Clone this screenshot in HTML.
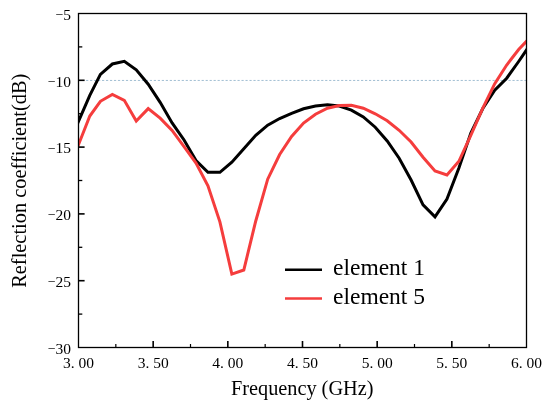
<!DOCTYPE html>
<html><head><meta charset="utf-8"><style>
html,body{margin:0;padding:0;background:#fff;}
svg{display:block;}
text{font-family:"Liberation Serif","Times New Roman",serif;fill:#000;}
</style></head><body>
<svg width="550" height="404" viewBox="0 0 550 404">
<defs><clipPath id="c"><rect x="78.5" y="13.5" width="448.0" height="334.0"/></clipPath></defs>
<rect width="550" height="404" fill="#fff"/>
<line x1="78.1" y1="80.45" x2="526.5" y2="80.45" stroke="#a2bfd3" stroke-width="1" stroke-dasharray="2.2 1.785"/>
<g clip-path="url(#c)">
<polyline points="76.50,126.00 89.80,95.30 100.40,74.40 112.35,64.00 124.30,61.40 136.25,69.90 148.20,84.20 160.15,102.30 172.10,122.90 184.05,140.00 196.00,160.50 207.95,172.30 219.90,172.30 231.85,162.20 243.80,148.80 255.75,135.30 267.70,125.20 279.65,118.50 291.60,113.40 303.55,108.80 315.50,106.00 327.45,104.70 339.40,106.00 351.35,110.20 363.30,116.90 375.25,127.20 387.20,141.00 399.15,158.20 411.10,180.00 423.05,204.80 435.00,216.80 446.95,199.00 458.90,168.00 470.85,133.00 482.80,108.50 494.75,90.20 506.70,78.20 518.65,61.50 530.60,44.00" fill="none" stroke="#000" stroke-width="3" stroke-linejoin="miter" stroke-miterlimit="3"/>
<polyline points="76.50,149.80 89.80,116.00 100.40,101.30 112.35,94.40 124.30,100.30 136.25,121.10 148.20,108.60 160.15,118.20 172.10,130.40 184.05,146.60 196.00,163.10 207.95,185.80 219.90,221.80 231.85,274.10 243.80,270.00 255.75,221.00 267.70,179.20 279.65,154.50 291.60,136.50 303.55,123.00 315.50,114.20 327.45,108.20 339.40,105.50 351.35,105.20 363.30,108.20 375.25,113.80 387.20,120.80 399.15,130.30 411.10,142.00 423.05,157.20 435.00,171.00 446.95,175.00 458.90,161.30 470.80,135.30 482.80,108.10 494.75,83.70 506.70,65.00 518.65,49.50 530.60,37.00" fill="none" stroke="#f53d3d" stroke-width="3" stroke-linejoin="miter" stroke-miterlimit="3"/>
</g>
<rect x="78.5" y="13.5" width="448.0" height="334.0" fill="none" stroke="#000" stroke-width="1.3"/>
<line x1="78.5" y1="46.90" x2="82.3" y2="46.90" stroke="#000" stroke-width="1.3"/><line x1="78.5" y1="80.30" x2="84.6" y2="80.30" stroke="#000" stroke-width="1.6"/><line x1="78.5" y1="113.70" x2="82.3" y2="113.70" stroke="#000" stroke-width="1.3"/><line x1="78.5" y1="147.10" x2="84.6" y2="147.10" stroke="#000" stroke-width="1.6"/><line x1="78.5" y1="180.50" x2="82.3" y2="180.50" stroke="#000" stroke-width="1.3"/><line x1="78.5" y1="213.90" x2="84.6" y2="213.90" stroke="#000" stroke-width="1.6"/><line x1="78.5" y1="247.30" x2="82.3" y2="247.30" stroke="#000" stroke-width="1.3"/><line x1="78.5" y1="280.70" x2="84.6" y2="280.70" stroke="#000" stroke-width="1.6"/><line x1="78.5" y1="314.10" x2="82.3" y2="314.10" stroke="#000" stroke-width="1.3"/><line x1="115.83" y1="347.5" x2="115.83" y2="344.0" stroke="#000" stroke-width="1.2"/><line x1="153.17" y1="347.5" x2="153.17" y2="341.0" stroke="#000" stroke-width="1.6"/><line x1="190.50" y1="347.5" x2="190.50" y2="344.0" stroke="#000" stroke-width="1.2"/><line x1="227.83" y1="347.5" x2="227.83" y2="341.0" stroke="#000" stroke-width="1.6"/><line x1="265.17" y1="347.5" x2="265.17" y2="344.0" stroke="#000" stroke-width="1.2"/><line x1="302.50" y1="347.5" x2="302.50" y2="341.0" stroke="#000" stroke-width="1.6"/><line x1="339.83" y1="347.5" x2="339.83" y2="344.0" stroke="#000" stroke-width="1.2"/><line x1="377.17" y1="347.5" x2="377.17" y2="341.0" stroke="#000" stroke-width="1.6"/><line x1="414.50" y1="347.5" x2="414.50" y2="344.0" stroke="#000" stroke-width="1.2"/><line x1="451.83" y1="347.5" x2="451.83" y2="341.0" stroke="#000" stroke-width="1.6"/><line x1="489.17" y1="347.5" x2="489.17" y2="344.0" stroke="#000" stroke-width="1.2"/>
<g font-size="15.5"><text x="71" y="19.8" text-anchor="end"><tspan font-size="13.8" dy="-0.9">−</tspan><tspan dy="0.9">5</tspan></text><text x="71" y="86.6" text-anchor="end"><tspan font-size="13.8" dy="-0.9">−</tspan><tspan dy="0.9">10</tspan></text><text x="71" y="153.4" text-anchor="end"><tspan font-size="13.8" dy="-0.9">−</tspan><tspan dy="0.9">15</tspan></text><text x="71" y="220.2" text-anchor="end"><tspan font-size="13.8" dy="-0.9">−</tspan><tspan dy="0.9">20</tspan></text><text x="71" y="287.0" text-anchor="end"><tspan font-size="13.8" dy="-0.9">−</tspan><tspan dy="0.9">25</tspan></text><text x="71" y="353.8" text-anchor="end"><tspan font-size="13.8" dy="-0.9">−</tspan><tspan dy="0.9">30</tspan></text></g>
<g font-size="15.5"><text x="78.5" y="367.6" text-anchor="middle">3.<tspan dx="4">00</tspan></text><text x="153.2" y="367.6" text-anchor="middle">3.<tspan dx="4">50</tspan></text><text x="227.8" y="367.6" text-anchor="middle">4.<tspan dx="4">00</tspan></text><text x="302.5" y="367.6" text-anchor="middle">4.<tspan dx="4">50</tspan></text><text x="377.2" y="367.6" text-anchor="middle">5.<tspan dx="4">00</tspan></text><text x="451.8" y="367.6" text-anchor="middle">5.<tspan dx="4">50</tspan></text><text x="526.5" y="367.6" text-anchor="middle">6.<tspan dx="4">00</tspan></text></g>
<text x="302.2" y="395" font-size="20.3" text-anchor="middle">Frequency (GHz)</text>
<text transform="translate(26.2,180.7) rotate(-90)" font-size="20.4" text-anchor="middle">Reflection coefficient(dB)</text>
<line x1="285" y1="269.8" x2="322" y2="269.8" stroke="#000" stroke-width="2.6"/>
<line x1="285" y1="298.5" x2="322" y2="298.5" stroke="#f53d3d" stroke-width="2.5"/>
<text x="333" y="275" font-size="23.5">element 1</text>
<text x="333" y="303.5" font-size="23.5">element 5</text>
</svg>
</body></html>
